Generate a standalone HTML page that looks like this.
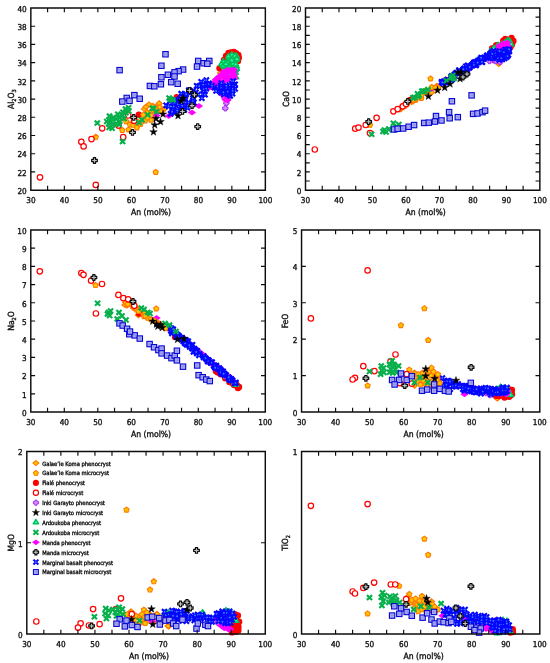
<!DOCTYPE html>
<html><head><meta charset="utf-8"><title>Plagioclase compositions</title>
<style>html,body{margin:0;padding:0;background:#fff}svg{display:block}text{font-family:'DejaVu Sans Condensed','DejaVu Sans','Liberation Sans',sans-serif;fill:#111;stroke:#111;stroke-width:0.33px;text-rendering:geometricPrecision}</style></head><body>
<svg width="550" height="663" viewBox="0 0 550 663">
<rect width="550" height="663" fill="#fff"/>
<defs>
<g id="gkp" transform="scale(1.05)"><path d="M0,-2.5L2.9,0L0,2.5L-2.9,0Z" fill="#FFC400" stroke="#FF7A00" stroke-width="1.15"/></g>
<g id="gkpL" transform="scale(1.0)"><path d="M0,-2.5L2.9,0L0,2.5L-2.9,0Z" fill="#FFC400" stroke="#FF7A00" stroke-width="1.15"/></g>
<g id="gkm" transform="scale(1.05)"><path d="M0,-2.5L2.47,-0.6L1.53,2.3L-1.53,2.3L-2.47,-0.6Z" fill="#FFC400" stroke="#FF7A00" stroke-width="1.05"/></g>
<g id="gkmL" transform="scale(1.0)"><path d="M0,-2.5L2.47,-0.6L1.53,2.3L-1.53,2.3L-2.47,-0.6Z" fill="#FFC400" stroke="#FF7A00" stroke-width="1.05"/></g>
<g id="fip" transform="scale(1.05)"><circle r="3.05" fill="#FF0000"/></g>
<g id="fipL" transform="scale(1.0)"><circle r="3.05" fill="#FF0000"/></g>
<g id="fim" transform="scale(1.05)"><circle r="2.6" fill="#fff" stroke="#FF0000" stroke-width="1.15"/></g>
<g id="fimL" transform="scale(1.0)"><circle r="2.6" fill="#fff" stroke="#FF0000" stroke-width="1.15"/></g>
<g id="igp" transform="scale(1.05)"><path d="M-1.1,-2.55H1.1V-1.1H2.55V1.1H1.1V2.55H-1.1V1.1H-2.55V-1.1H-1.1Z" fill="#DC88FF" stroke="#A020F0" stroke-width="0.85" stroke-linejoin="round"/></g>
<g id="igpL" transform="scale(1.0)"><path d="M-1.1,-2.55H1.1V-1.1H2.55V1.1H1.1V2.55H-1.1V1.1H-2.55V-1.1H-1.1Z" fill="#DC88FF" stroke="#A020F0" stroke-width="0.85" stroke-linejoin="round"/></g>
<g id="igm" transform="scale(1.05)"><path d="M0,-3.8L0.88,-1.21L3.61,-1.17L1.42,0.46L2.23,3.07L0,1.5L-2.23,3.07L-1.42,0.46L-3.61,-1.17L-0.88,-1.21Z" fill="#000" stroke="#000" stroke-width="0.4" stroke-linejoin="round"/></g>
<g id="igmL" transform="scale(1.0)"><path d="M0,-3.8L0.88,-1.21L3.61,-1.17L1.42,0.46L2.23,3.07L0,1.5L-2.23,3.07L-1.42,0.46L-3.61,-1.17L-0.88,-1.21Z" fill="#000" stroke="#000" stroke-width="0.4" stroke-linejoin="round"/></g>
<g id="arp" transform="scale(1.05)"><path d="M0,-3.2L2.7,1.3H-2.7Z" fill="#30FFB0" stroke="#00C25A" stroke-width="1.4" stroke-linejoin="round"/></g>
<g id="arpL" transform="scale(1.0)"><path d="M0,-3.2L2.7,1.3H-2.7Z" fill="#30FFB0" stroke="#00C25A" stroke-width="1.4" stroke-linejoin="round"/></g>
<g id="arm" transform="scale(1.05)"><path d="M-2.45,-2.35L2.45,2.35M-2.45,2.35L2.45,-2.35" fill="none" stroke="#08B04C" stroke-width="2.05"/></g>
<g id="armL" transform="scale(1.0)"><path d="M-2.45,-2.35L2.45,2.35M-2.45,2.35L2.45,-2.35" fill="none" stroke="#08B04C" stroke-width="2.05"/></g>
<g id="map" transform="scale(1.05)"><path d="M-3.9,0L-0.3,-2.6H0.3L3.9,0L0.3,2.6H-0.3Z" fill="#FF00FF"/></g>
<g id="mapL" transform="scale(1.0)"><path d="M-3.9,0L-0.3,-2.6H0.3L3.9,0L0.3,2.6H-0.3Z" fill="#FF00FF"/></g>
<g id="mam" transform="scale(1.05)"><path d="M-1.05,-2.7H1.05V-1.05H2.7V1.05H1.05V2.7H-1.05V1.05H-2.7V-1.05H-1.05Z" fill="#C0C0C0" stroke="#0A0A0A" stroke-width="1.1" stroke-linejoin="round"/></g>
<g id="mamL" transform="scale(1.0)"><path d="M-1.05,-2.7H1.05V-1.05H2.7V1.05H1.05V2.7H-1.05V1.05H-2.7V-1.05H-1.05Z" fill="#C0C0C0" stroke="#0A0A0A" stroke-width="1.1" stroke-linejoin="round"/></g>
<g id="mbp" transform="scale(1.05)"><path d="M-2.45,-2.45L2.45,2.45M-2.45,2.45L2.45,-2.45" fill="none" stroke="#0505FF" stroke-width="2.05"/><circle r="0.9" fill="#3A80FF"/></g>
<g id="mbpL" transform="scale(1.0)"><path d="M-2.45,-2.45L2.45,2.45M-2.45,2.45L2.45,-2.45" fill="none" stroke="#0505FF" stroke-width="2.05"/><circle r="0.9" fill="#3A80FF"/></g>
<g id="mbm" transform="scale(1.0)"><rect x="-2.68" y="-2.62" width="5.36" height="5.36" fill="#B8B8F8" stroke="#0808D0" stroke-width="1.15"/><path d="M-0.75,-2V2M0.75,-2V2M-2,0H2" stroke="#8484EA" stroke-width="0.6" fill="none"/></g>
<g id="mbmL" transform="scale(0.92)"><rect x="-2.68" y="-2.62" width="5.36" height="5.36" fill="#B8B8F8" stroke="#0808D0" stroke-width="1.15"/><path d="M-0.75,-2V2M0.75,-2V2M-2,0H2" stroke="#8484EA" stroke-width="0.6" fill="none"/></g>
</defs>
<g><use href="#gkp" x="144.5" y="109.1"/><use href="#gkp" x="149.0" y="104.6"/><use href="#gkp" x="159.2" y="103.4"/><use href="#gkp" x="156.0" y="107.2"/><use href="#gkp" x="159.8" y="107.2"/><use href="#gkp" x="150.9" y="111.6"/><use href="#gkp" x="164.3" y="109.1"/><use href="#gkp" x="153.0" y="106.0"/><use href="#gkp" x="147.0" y="112.5"/><use href="#gkp" x="161.5" y="111.0"/><use href="#gkp" x="142.0" y="116.5"/><use href="#gkp" x="155.0" y="113.5"/><use href="#gkp" x="151.5" y="115.5"/><use href="#gkp" x="146.0" y="106.8"/><use href="#gkp" x="220.6" y="73.0"/><use href="#fip" x="138.8" y="114.8"/><use href="#fip" x="176.7" y="97.2"/><use href="#fip" x="219.5" y="68.2"/><use href="#fip" x="228.5" y="52.9"/><use href="#fip" x="233.8" y="51.9"/><use href="#fip" x="238.3" y="55.0"/><use href="#fip" x="238.8" y="57.7"/><use href="#fip" x="231.0" y="52.5"/><use href="#fip" x="236.0" y="53.3"/><use href="#fip" x="226.0" y="56.0"/><use href="#fip" x="224.0" y="60.0"/><use href="#fip" x="238.0" y="61.0"/><use href="#igp" x="219.5" y="76.6"/><use href="#igp" x="221.0" y="91.4"/><use href="#igp" x="226.4" y="103.0"/><use href="#igp" x="225.3" y="108.3"/><use href="#igp" x="224.0" y="97.0"/><use href="#igp" x="228.0" y="99.0"/><use href="#igp" x="223.0" y="84.0"/><use href="#arp" x="223.2" y="62.0"/><use href="#arp" x="234.1" y="71.4"/><use href="#arp" x="229.2" y="66.3"/><use href="#arp" x="231.8" y="54.9"/><use href="#arp" x="233.1" y="59.4"/><use href="#arp" x="229.1" y="62.6"/><use href="#arp" x="233.6" y="68.2"/><use href="#arp" x="229.5" y="64.5"/><use href="#arp" x="235.7" y="58.1"/><use href="#arp" x="221.3" y="64.4"/><use href="#arp" x="228.4" y="59.8"/><use href="#arp" x="224.5" y="67.4"/><use href="#arp" x="223.3" y="66.0"/><use href="#arp" x="236.6" y="56.5"/><use href="#arp" x="234.5" y="65.6"/><use href="#arp" x="235.5" y="70.3"/><use href="#arp" x="234.8" y="56.2"/><use href="#arp" x="235.8" y="60.3"/><use href="#arp" x="227.1" y="62.8"/><use href="#arp" x="229.4" y="57.9"/><use href="#arp" x="235.5" y="72.9"/><use href="#arp" x="236.4" y="66.6"/><use href="#arp" x="233.0" y="64.2"/><use href="#arp" x="231.8" y="60.6"/><use href="#arp" x="235.9" y="77.4"/><use href="#arp" x="228.4" y="56.7"/><use href="#arp" x="235.7" y="64.8"/><use href="#arp" x="236.9" y="59.3"/><use href="#arp" x="225.9" y="64.4"/><use href="#arp" x="236.7" y="68.9"/><use href="#map" x="156.6" y="115.5"/><use href="#map" x="168.7" y="116.1"/><use href="#map" x="192.0" y="112.6"/><use href="#map" x="199.0" y="106.0"/><use href="#map" x="222.0" y="74.4"/><use href="#map" x="231.0" y="72.7"/><use href="#map" x="215.6" y="84.8"/><use href="#map" x="224.9" y="74.6"/><use href="#map" x="226.1" y="75.8"/><use href="#map" x="215.8" y="79.5"/><use href="#map" x="227.4" y="72.6"/><use href="#map" x="218.7" y="83.4"/><use href="#map" x="228.4" y="79.2"/><use href="#map" x="226.5" y="79.7"/><use href="#map" x="223.2" y="76.5"/><use href="#map" x="220.3" y="81.3"/><use href="#map" x="217.8" y="81.4"/><use href="#map" x="233.8" y="69.5"/><use href="#map" x="223.5" y="72.0"/><use href="#map" x="217.3" y="79.0"/><use href="#map" x="220.0" y="77.1"/><use href="#map" x="230.2" y="69.7"/><use href="#map" x="211.7" y="83.8"/><use href="#map" x="214.3" y="81.9"/><use href="#map" x="233.8" y="76.3"/><use href="#map" x="233.7" y="74.4"/><use href="#map" x="230.5" y="77.0"/><use href="#map" x="228.0" y="77.0"/><use href="#map" x="227.3" y="69.9"/><use href="#map" x="210.7" y="86.9"/><use href="#map" x="233.4" y="72.0"/><use href="#map" x="213.1" y="87.9"/><use href="#map" x="218.2" y="77.2"/><use href="#map" x="224.5" y="77.8"/><use href="#map" x="223.0" y="82.1"/><use href="#map" x="209.0" y="87.6"/><use href="#map" x="209.3" y="85.7"/><use href="#map" x="234.2" y="78.6"/><use href="#map" x="223.8" y="93.0"/><use href="#map" x="225.3" y="95.0"/><use href="#map" x="222.8" y="95.1"/><use href="#map" x="221.4" y="88.3"/><use href="#map" x="223.7" y="91.3"/><use href="#map" x="227.8" y="97.2"/><use href="#map" x="227.4" y="100.3"/><use href="#map" x="225.5" y="99.7"/><use href="#map" x="223.1" y="88.4"/><use href="#mbp" x="188.4" y="102.6"/><use href="#mbp" x="181.2" y="93.7"/><use href="#mbp" x="196.7" y="85.9"/><use href="#mbp" x="202.9" y="87.1"/><use href="#mbp" x="176.0" y="105.6"/><use href="#mbp" x="174.3" y="111.8"/><use href="#mbp" x="195.9" y="92.3"/><use href="#mbp" x="209.0" y="83.3"/><use href="#mbp" x="182.0" y="107.8"/><use href="#mbp" x="203.0" y="94.1"/><use href="#mbp" x="206.4" y="80.1"/><use href="#mbp" x="184.5" y="107.4"/><use href="#mbp" x="177.8" y="104.1"/><use href="#mbp" x="166.2" y="105.4"/><use href="#mbp" x="185.3" y="96.3"/><use href="#mbp" x="207.8" y="85.4"/><use href="#mbp" x="193.3" y="90.5"/><use href="#mbp" x="201.2" y="81.8"/><use href="#mbp" x="197.9" y="94.6"/><use href="#mbp" x="193.9" y="102.6"/><use href="#mbp" x="203.8" y="89.3"/><use href="#mbp" x="191.5" y="92.1"/><use href="#mbp" x="199.2" y="86.0"/><use href="#mbp" x="172.9" y="109.9"/><use href="#mbp" x="187.4" y="107.7"/><use href="#mbp" x="205.0" y="94.7"/><use href="#mbp" x="192.8" y="100.7"/><use href="#mbp" x="177.5" y="100.0"/><use href="#mbp" x="201.8" y="98.2"/><use href="#mbp" x="183.8" y="98.3"/><use href="#mbp" x="173.4" y="103.3"/><use href="#mbp" x="180.1" y="98.8"/><use href="#mbp" x="184.3" y="109.9"/><use href="#mbp" x="170.0" y="100.8"/><use href="#mbp" x="182.7" y="96.7"/><use href="#mbp" x="203.1" y="84.6"/><use href="#mbp" x="189.3" y="92.4"/><use href="#mbp" x="193.0" y="98.3"/><use href="#mbp" x="185.2" y="102.1"/><use href="#mbp" x="186.1" y="94.3"/><use href="#mbp" x="206.3" y="88.6"/><use href="#mbp" x="188.8" y="90.2"/><use href="#mbp" x="173.6" y="106.5"/><use href="#mbp" x="170.7" y="113.8"/><use href="#mbp" x="182.2" y="105.8"/><use href="#mbp" x="193.7" y="94.1"/><use href="#mbp" x="172.1" y="111.8"/><use href="#mbp" x="177.2" y="110.6"/><use href="#mbp" x="168.6" y="106.3"/><use href="#mbp" x="175.0" y="100.3"/><use href="#mbp" x="225.0" y="91.0"/><use href="#mbp" x="231.8" y="83.7"/><use href="#mbp" x="220.6" y="85.6"/><use href="#mbp" x="231.1" y="92.2"/><use href="#mbp" x="230.2" y="88.3"/><use href="#mbp" x="221.1" y="92.7"/><use href="#mbp" x="229.1" y="94.3"/><use href="#mbp" x="229.5" y="85.1"/><use href="#mbp" x="226.0" y="87.8"/><use href="#mbp" x="219.6" y="91.0"/><use href="#mbp" x="235.1" y="84.3"/><use href="#mbp" x="233.2" y="81.1"/><use href="#mbp" x="230.2" y="95.8"/><use href="#mbp" x="233.2" y="86.1"/><use href="#mbp" x="227.7" y="91.8"/><use href="#mbp" x="224.1" y="94.2"/><use href="#mbp" x="223.4" y="92.3"/><use href="#mbp" x="226.4" y="85.8"/><use href="#mbp" x="221.4" y="83.1"/><use href="#mbp" x="232.5" y="93.7"/><use href="#mbp" x="220.8" y="87.6"/><use href="#mbp" x="235.1" y="88.9"/><use href="#mbp" x="232.6" y="90.7"/><use href="#mbp" x="214.4" y="87.4"/><use href="#mbp" x="217.8" y="88.7"/><use href="#mbp" x="216.1" y="91.0"/><use href="#mbp" x="209.0" y="84.0"/><use href="#mbp" x="212.0" y="85.5"/><use href="#gkm" x="95.8" y="136.9"/><use href="#gkm" x="155.7" y="172.1"/><use href="#gkm" x="126.1" y="121.2"/><use href="#gkm" x="129.9" y="124.4"/><use href="#gkm" x="122.3" y="130.1"/><use href="#gkm" x="128.6" y="129.5"/><use href="#gkm" x="136.9" y="127.5"/><use href="#gkm" x="145.2" y="120.5"/><use href="#gkm" x="143.3" y="114.8"/><use href="#gkm" x="150.9" y="119.9"/><use href="#gkm" x="133.0" y="124.8"/><use href="#gkm" x="140.5" y="124.0"/><use href="#gkm" x="147.5" y="117.5"/><use href="#gkm" x="137.5" y="121.5"/><use href="#fim" x="40.0" y="177.3"/><use href="#fim" x="81.3" y="141.8"/><use href="#fim" x="83.6" y="146.4"/><use href="#fim" x="91.5" y="139.1"/><use href="#fim" x="102.2" y="128.3"/><use href="#fim" x="95.8" y="184.9"/><use href="#fim" x="123.2" y="137.2"/><use href="#fim" x="128.3" y="115.5"/><use href="#fim" x="134.1" y="120.8"/><use href="#fim" x="118.5" y="125.6"/><use href="#arm" x="97.3" y="123.1"/><use href="#arm" x="122.6" y="141.6"/><use href="#arm" x="109.5" y="116.1"/><use href="#arm" x="108.9" y="119.9"/><use href="#arm" x="108.7" y="123.7"/><use href="#arm" x="109.2" y="127.5"/><use href="#arm" x="112.1" y="128.2"/><use href="#arm" x="113.4" y="117.4"/><use href="#arm" x="111.0" y="121.5"/><use href="#arm" x="112.5" y="124.8"/><use href="#arm" x="106.8" y="121.5"/><use href="#arm" x="117.8" y="114.2"/><use href="#arm" x="119.1" y="117.4"/><use href="#arm" x="119.7" y="121.2"/><use href="#arm" x="119.1" y="124.4"/><use href="#arm" x="116.0" y="119.0"/><use href="#arm" x="116.2" y="123.5"/><use href="#arm" x="122.9" y="112.3"/><use href="#arm" x="125.5" y="109.1"/><use href="#arm" x="128.6" y="107.8"/><use href="#arm" x="122.3" y="115.5"/><use href="#arm" x="125.8" y="112.8"/><use href="#arm" x="128.8" y="111.0"/><use href="#arm" x="124.0" y="118.5"/><use href="#arm" x="142.0" y="119.9"/><use href="#arm" x="147.7" y="114.8"/><use href="#arm" x="153.5" y="108.5"/><use href="#arm" x="156.6" y="111.6"/><use href="#arm" x="152.4" y="108.3"/><use href="#arm" x="170.4" y="99.3"/><use href="#arm" x="169.1" y="98.0"/><use href="#arm" x="172.9" y="99.9"/><use href="#arm" x="139.0" y="122.5"/><use href="#igm" x="153.5" y="132.0"/><use href="#igm" x="154.7" y="125.0"/><use href="#igm" x="160.5" y="121.8"/><use href="#igm" x="163.0" y="114.2"/><use href="#igm" x="156.0" y="118.6"/><use href="#igm" x="183.1" y="98.3"/><use href="#igm" x="178.0" y="115.8"/><use href="#igm" x="181.0" y="101.0"/><use href="#mam" x="94.5" y="160.5"/><use href="#mam" x="133.7" y="117.4"/><use href="#mam" x="132.5" y="132.4"/><use href="#mam" x="189.5" y="90.4"/><use href="#mam" x="197.7" y="126.6"/><use href="#mam" x="192.0" y="105.6"/><use href="#mam" x="182.5" y="111.4"/><use href="#mam" x="194.5" y="94.8"/><use href="#mbm" x="165.5" y="54.2"/><use href="#mbm" x="119.6" y="70.1"/><use href="#mbm" x="161.4" y="65.7"/><use href="#mbm" x="183.1" y="69.5"/><use href="#mbm" x="178.6" y="71.1"/><use href="#mbm" x="174.5" y="72.3"/><use href="#mbm" x="167.9" y="74.7"/><use href="#mbm" x="174.5" y="76.4"/><use href="#mbm" x="161.4" y="77.2"/><use href="#mbm" x="171.2" y="82.1"/><use href="#mbm" x="177.7" y="83.7"/><use href="#mbm" x="160.9" y="84.2"/><use href="#mbm" x="149.9" y="85.9"/><use href="#mbm" x="154.3" y="86.2"/><use href="#mbm" x="134.4" y="95.1"/><use href="#mbm" x="126.7" y="97.9"/><use href="#mbm" x="139.7" y="98.7"/><use href="#mbm" x="122.3" y="101.5"/><use href="#mbm" x="129.5" y="100.8"/><use href="#mbm" x="198.2" y="60.9"/><use href="#mbm" x="209.3" y="60.9"/><use href="#mbm" x="203.6" y="63.2"/><use href="#mbm" x="207.3" y="63.7"/><use href="#mbm" x="197.0" y="66.5"/></g>
<path d="M30.85,8.0H265.35V190.15H30.85Z" fill="none" stroke="#0c0c0c" stroke-width="1.45" stroke-linejoin="miter"/>
<path d="M47.60,190.15v-4.3M47.60,8.0v4.3M64.35,190.15v-4.3M64.35,8.0v4.3M81.10,190.15v-4.3M81.10,8.0v4.3M97.85,190.15v-4.3M97.85,8.0v4.3M114.60,190.15v-4.3M114.60,8.0v4.3M131.35,190.15v-4.3M131.35,8.0v4.3M148.10,190.15v-4.3M148.10,8.0v4.3M164.85,190.15v-4.3M164.85,8.0v4.3M181.60,190.15v-4.3M181.60,8.0v4.3M198.35,190.15v-4.3M198.35,8.0v4.3M215.10,190.15v-4.3M215.10,8.0v4.3M231.85,190.15v-4.3M231.85,8.0v4.3M248.60,190.15v-4.3M248.60,8.0v4.3M30.85,171.94h4.3M265.35,171.94h-4.3M30.85,153.72h4.3M265.35,153.72h-4.3M30.85,135.50h4.3M265.35,135.50h-4.3M30.85,117.29h4.3M265.35,117.29h-4.3M30.85,99.08h4.3M265.35,99.08h-4.3M30.85,80.86h4.3M265.35,80.86h-4.3M30.85,62.65h4.3M265.35,62.65h-4.3M30.85,44.43h4.3M265.35,44.43h-4.3M30.85,26.22h4.3M265.35,26.22h-4.3" fill="none" stroke="#0c0c0c" stroke-width="1.15"/>
<text x="30.9" y="202.8" font-size="8.15" text-anchor="middle">30</text>
<text x="64.4" y="202.8" font-size="8.15" text-anchor="middle">40</text>
<text x="97.9" y="202.8" font-size="8.15" text-anchor="middle">50</text>
<text x="131.4" y="202.8" font-size="8.15" text-anchor="middle">60</text>
<text x="164.9" y="202.8" font-size="8.15" text-anchor="middle">70</text>
<text x="198.4" y="202.8" font-size="8.15" text-anchor="middle">80</text>
<text x="231.9" y="202.8" font-size="8.15" text-anchor="middle">90</text>
<text x="265.4" y="202.8" font-size="8.15" text-anchor="middle">100</text>
<text x="26.7" y="193.8" font-size="8.15" text-anchor="end">20</text>
<text x="26.7" y="175.6" font-size="8.15" text-anchor="end">22</text>
<text x="26.7" y="157.4" font-size="8.15" text-anchor="end">24</text>
<text x="26.7" y="139.2" font-size="8.15" text-anchor="end">26</text>
<text x="26.7" y="121.0" font-size="8.15" text-anchor="end">28</text>
<text x="26.7" y="102.8" font-size="8.15" text-anchor="end">30</text>
<text x="26.7" y="84.6" font-size="8.15" text-anchor="end">32</text>
<text x="26.7" y="66.3" font-size="8.15" text-anchor="end">34</text>
<text x="26.7" y="48.1" font-size="8.15" text-anchor="end">36</text>
<text x="26.7" y="29.9" font-size="8.15" text-anchor="end">38</text>
<text x="26.7" y="11.7" font-size="8.15" text-anchor="end">40</text>
<text x="151.0" y="215.0" font-size="8.55" text-anchor="middle">An (mol%)</text>
<text transform="translate(13.9,99.1) rotate(-90)" font-size="8.5" text-anchor="middle">Al<tspan font-size="5.6" dy="1.8">2</tspan><tspan dy="-1.8">O</tspan><tspan font-size="5.6" dy="1.8">3</tspan></text>
<g><use href="#gkp" x="427.1" y="91.8"/><use href="#gkp" x="417.0" y="97.0"/><use href="#gkp" x="431.8" y="88.5"/><use href="#gkp" x="418.2" y="96.8"/><use href="#gkp" x="437.0" y="86.0"/><use href="#gkp" x="411.6" y="101.8"/><use href="#gkp" x="429.1" y="91.0"/><use href="#gkp" x="404.6" y="104.5"/><use href="#gkp" x="408.6" y="102.0"/><use href="#gkp" x="405.7" y="105.8"/><use href="#gkp" x="413.0" y="101.4"/><use href="#gkp" x="431.5" y="92.4"/><use href="#gkp" x="402.7" y="106.8"/><use href="#gkp" x="414.8" y="98.9"/><use href="#gkp" x="498.8" y="63.8"/><use href="#fip" x="410.0" y="100.0"/><use href="#fip" x="446.0" y="80.0"/><use href="#fip" x="496.0" y="45.5"/><use href="#fip" x="497.2" y="45.2"/><use href="#fip" x="503.5" y="41.8"/><use href="#fip" x="503.3" y="40.7"/><use href="#fip" x="507.8" y="40.0"/><use href="#fip" x="493.6" y="49.1"/><use href="#fip" x="505.4" y="39.0"/><use href="#fip" x="495.0" y="48.0"/><use href="#fip" x="492.1" y="48.5"/><use href="#fip" x="493.0" y="49.9"/><use href="#fip" x="496.5" y="46.1"/><use href="#fip" x="494.2" y="48.3"/><use href="#fip" x="506.1" y="40.3"/><use href="#fip" x="498.8" y="45.8"/><use href="#fip" x="511.5" y="38.0"/><use href="#fip" x="513.4" y="41.0"/><use href="#fip" x="512.0" y="44.5"/><use href="#fip" x="510.5" y="47.0"/><use href="#igp" x="493.8" y="60.4"/><use href="#igp" x="497.0" y="57.0"/><use href="#igp" x="491.0" y="58.0"/><use href="#igp" x="500.0" y="62.0"/><use href="#igp" x="489.5" y="61.0"/><use href="#igp" x="496.0" y="61.0"/><use href="#arp" x="498.0" y="45.4"/><use href="#arp" x="509.6" y="41.2"/><use href="#arp" x="511.0" y="44.4"/><use href="#arp" x="505.0" y="42.9"/><use href="#arp" x="502.0" y="44.4"/><use href="#arp" x="490.5" y="51.4"/><use href="#arp" x="477.8" y="60.3"/><use href="#arp" x="507.5" y="40.9"/><use href="#arp" x="494.0" y="48.4"/><use href="#map" x="431.6" y="88.7"/><use href="#map" x="452.0" y="77.0"/><use href="#map" x="470.0" y="68.0"/><use href="#map" x="473.0" y="66.0"/><use href="#map" x="505.9" y="48.7"/><use href="#map" x="502.3" y="44.8"/><use href="#map" x="501.7" y="50.4"/><use href="#map" x="499.0" y="46.1"/><use href="#map" x="502.3" y="48.5"/><use href="#map" x="501.2" y="46.9"/><use href="#map" x="504.2" y="47.5"/><use href="#map" x="506.5" y="47.1"/><use href="#map" x="503.3" y="45.9"/><use href="#map" x="505.9" y="45.7"/><use href="#map" x="507.2" y="42.5"/><use href="#map" x="503.4" y="43.6"/><use href="#map" x="507.8" y="45.7"/><use href="#map" x="499.7" y="47.6"/><use href="#map" x="497.0" y="51.0"/><use href="#map" x="506.5" y="44.4"/><use href="#mbp" x="482.4" y="62.2"/><use href="#mbp" x="450.6" y="79.5"/><use href="#mbp" x="480.3" y="59.7"/><use href="#mbp" x="476.0" y="65.4"/><use href="#mbp" x="483.0" y="57.8"/><use href="#mbp" x="451.2" y="77.1"/><use href="#mbp" x="478.1" y="60.6"/><use href="#mbp" x="464.1" y="71.6"/><use href="#mbp" x="454.3" y="74.7"/><use href="#mbp" x="453.7" y="77.3"/><use href="#mbp" x="445.0" y="82.5"/><use href="#mbp" x="465.4" y="70.5"/><use href="#mbp" x="467.1" y="69.8"/><use href="#mbp" x="468.7" y="67.7"/><use href="#mbp" x="483.7" y="58.8"/><use href="#mbp" x="464.2" y="68.3"/><use href="#mbp" x="483.4" y="58.3"/><use href="#mbp" x="459.0" y="70.1"/><use href="#mbp" x="446.0" y="82.4"/><use href="#mbp" x="473.4" y="64.7"/><use href="#mbp" x="472.1" y="65.4"/><use href="#mbp" x="476.3" y="64.4"/><use href="#mbp" x="490.7" y="54.4"/><use href="#mbp" x="465.9" y="66.3"/><use href="#mbp" x="443.3" y="82.5"/><use href="#mbp" x="477.2" y="61.8"/><use href="#mbp" x="484.5" y="57.6"/><use href="#mbp" x="459.2" y="71.4"/><use href="#mbp" x="480.4" y="61.2"/><use href="#mbp" x="451.5" y="76.2"/><use href="#mbp" x="469.6" y="67.7"/><use href="#mbp" x="482.8" y="58.8"/><use href="#mbp" x="462.9" y="73.5"/><use href="#mbp" x="466.7" y="68.5"/><use href="#mbp" x="491.2" y="56.2"/><use href="#mbp" x="474.6" y="64.6"/><use href="#mbp" x="456.9" y="73.2"/><use href="#mbp" x="455.8" y="73.4"/><use href="#mbp" x="480.5" y="59.8"/><use href="#mbp" x="443.3" y="81.8"/><use href="#mbp" x="467.7" y="65.4"/><use href="#mbp" x="444.0" y="81.8"/><use href="#mbp" x="451.1" y="77.9"/><use href="#mbp" x="487.2" y="55.4"/><use href="#mbp" x="480.6" y="59.5"/><use href="#mbp" x="486.6" y="55.8"/><use href="#mbp" x="472.5" y="64.2"/><use href="#mbp" x="475.8" y="61.8"/><use href="#mbp" x="451.7" y="76.2"/><use href="#mbp" x="474.1" y="62.3"/><use href="#mbp" x="446.9" y="80.8"/><use href="#mbp" x="451.6" y="79.8"/><use href="#mbp" x="487.7" y="57.2"/><use href="#mbp" x="473.7" y="63.0"/><use href="#mbp" x="481.9" y="61.9"/><use href="#mbp" x="469.7" y="67.0"/><use href="#mbp" x="463.2" y="71.9"/><use href="#mbp" x="456.7" y="72.7"/><use href="#mbp" x="488.8" y="56.8"/><use href="#mbp" x="444.1" y="81.4"/><use href="#mbp" x="447.4" y="79.7"/><use href="#mbp" x="481.1" y="57.7"/><use href="#mbp" x="463.3" y="69.3"/><use href="#mbp" x="441.6" y="81.8"/><use href="#mbp" x="489.2" y="57.0"/><use href="#mbp" x="490.2" y="53.8"/><use href="#mbp" x="446.7" y="80.5"/><use href="#mbp" x="474.0" y="64.7"/><use href="#mbp" x="442.6" y="83.4"/><use href="#mbp" x="441.6" y="82.9"/><use href="#mbp" x="489.8" y="54.8"/><use href="#mbp" x="446.1" y="81.1"/><use href="#mbp" x="442.2" y="82.4"/><use href="#mbp" x="477.7" y="62.5"/><use href="#mbp" x="451.9" y="79.6"/><use href="#mbp" x="490.4" y="57.9"/><use href="#mbp" x="505.1" y="49.5"/><use href="#mbp" x="502.9" y="57.1"/><use href="#mbp" x="499.2" y="59.8"/><use href="#mbp" x="507.0" y="49.5"/><use href="#mbp" x="496.0" y="57.3"/><use href="#mbp" x="497.2" y="55.5"/><use href="#mbp" x="498.8" y="56.7"/><use href="#mbp" x="492.4" y="58.1"/><use href="#mbp" x="502.9" y="53.6"/><use href="#mbp" x="497.6" y="58.0"/><use href="#mbp" x="501.5" y="52.0"/><use href="#mbp" x="504.5" y="58.5"/><use href="#mbp" x="502.3" y="59.3"/><use href="#mbp" x="506.7" y="51.9"/><use href="#mbp" x="501.3" y="58.1"/><use href="#mbp" x="509.4" y="51.3"/><use href="#mbp" x="499.4" y="51.0"/><use href="#mbp" x="506.4" y="54.1"/><use href="#mbp" x="508.4" y="54.8"/><use href="#mbp" x="493.4" y="50.8"/><use href="#mbp" x="491.6" y="56.2"/><use href="#mbp" x="509.0" y="49.3"/><use href="#mbp" x="494.9" y="55.3"/><use href="#mbp" x="494.8" y="52.8"/><use href="#mbp" x="506.3" y="57.1"/><use href="#mbp" x="503.9" y="52.1"/><use href="#mbp" x="491.6" y="52.4"/><use href="#mbp" x="492.3" y="53.9"/><use href="#mbp" x="507.5" y="56.1"/><use href="#gkm" x="370.0" y="124.8"/><use href="#gkm" x="400.0" y="109.0"/><use href="#gkm" x="430.5" y="78.5"/><use href="#gkm" x="401.8" y="107.2"/><use href="#gkm" x="431.8" y="87.1"/><use href="#gkm" x="425.3" y="92.1"/><use href="#gkm" x="415.8" y="99.5"/><use href="#gkm" x="438.2" y="87.5"/><use href="#gkm" x="399.7" y="109.4"/><use href="#gkm" x="407.0" y="103.5"/><use href="#gkm" x="421.3" y="98.0"/><use href="#gkm" x="415.0" y="99.7"/><use href="#gkm" x="418.0" y="96.6"/><use href="#gkm" x="421.4" y="95.2"/><use href="#gkm" x="425.5" y="90.6"/><use href="#gkm" x="413.2" y="99.7"/><use href="#gkm" x="435.4" y="87.6"/><use href="#fim" x="314.8" y="149.5"/><use href="#fim" x="355.2" y="128.7"/><use href="#fim" x="358.5" y="127.6"/><use href="#fim" x="365.7" y="125.0"/><use href="#fim" x="376.6" y="117.8"/><use href="#fim" x="370.0" y="133.1"/><use href="#fim" x="393.4" y="111.3"/><use href="#fim" x="397.7" y="109.1"/><use href="#fim" x="402.8" y="106.3"/><use href="#fim" x="406.0" y="104.0"/><use href="#arm" x="371.6" y="134.2"/><use href="#arm" x="383.0" y="131.5"/><use href="#arm" x="386.0" y="132.0"/><use href="#arm" x="384.5" y="130.0"/><use href="#arm" x="393.4" y="123.3"/><use href="#arm" x="398.8" y="124.4"/><use href="#arm" x="392.3" y="129.8"/><use href="#arm" x="396.0" y="127.0"/><use href="#arm" x="389.0" y="129.0"/><use href="#arm" x="428.0" y="89.6"/><use href="#arm" x="417.5" y="93.8"/><use href="#arm" x="414.2" y="97.6"/><use href="#arm" x="414.3" y="97.4"/><use href="#arm" x="418.2" y="96.6"/><use href="#arm" x="424.6" y="91.5"/><use href="#arm" x="421.9" y="91.1"/><use href="#arm" x="418.9" y="94.9"/><use href="#arm" x="412.9" y="97.7"/><use href="#arm" x="423.2" y="91.3"/><use href="#arm" x="453.0" y="75.6"/><use href="#arm" x="451.5" y="78.5"/><use href="#arm" x="446.4" y="80.8"/><use href="#arm" x="454.0" y="78.5"/><use href="#arm" x="451.3" y="77.2"/><use href="#igm" x="428.4" y="96.4"/><use href="#igm" x="437.5" y="90.3"/><use href="#igm" x="444.7" y="87.6"/><use href="#igm" x="460.0" y="78.9"/><use href="#igm" x="457.8" y="72.4"/><use href="#igm" x="450.0" y="84.0"/><use href="#igm" x="461.0" y="72.5"/><use href="#mam" x="368.7" y="121.7"/><use href="#mam" x="407.8" y="101.4"/><use href="#mam" x="463.0" y="77.0"/><use href="#mam" x="467.0" y="74.0"/><use href="#mbm" x="394.0" y="129.4"/><use href="#mbm" x="397.7" y="128.7"/><use href="#mbm" x="403.2" y="128.4"/><use href="#mbm" x="408.6" y="126.7"/><use href="#mbm" x="414.1" y="125.0"/><use href="#mbm" x="424.2" y="122.9"/><use href="#mbm" x="428.8" y="122.6"/><use href="#mbm" x="436.0" y="116.0"/><use href="#mbm" x="434.9" y="121.5"/><use href="#mbm" x="441.5" y="120.4"/><use href="#mbm" x="449.1" y="112.1"/><use href="#mbm" x="449.7" y="118.2"/><use href="#mbm" x="457.8" y="117.1"/><use href="#mbm" x="451.9" y="101.2"/><use href="#mbm" x="471.6" y="95.3"/><use href="#mbm" x="473.1" y="113.8"/><use href="#mbm" x="477.5" y="113.4"/><use href="#mbm" x="482.5" y="112.1"/><use href="#mbm" x="485.1" y="110.6"/></g>
<path d="M305.5,8.0H539.85V190.15H305.5Z" fill="none" stroke="#0c0c0c" stroke-width="1.45" stroke-linejoin="miter"/>
<path d="M322.24,190.15v-4.3M322.24,8.0v4.3M338.98,190.15v-4.3M338.98,8.0v4.3M355.72,190.15v-4.3M355.72,8.0v4.3M372.46,190.15v-4.3M372.46,8.0v4.3M389.20,190.15v-4.3M389.20,8.0v4.3M405.94,190.15v-4.3M405.94,8.0v4.3M422.68,190.15v-4.3M422.68,8.0v4.3M439.41,190.15v-4.3M439.41,8.0v4.3M456.15,190.15v-4.3M456.15,8.0v4.3M472.89,190.15v-4.3M472.89,8.0v4.3M489.63,190.15v-4.3M489.63,8.0v4.3M506.37,190.15v-4.3M506.37,8.0v4.3M523.11,190.15v-4.3M523.11,8.0v4.3M305.5,181.04h4.3M539.85,181.04h-4.3M305.5,171.94h4.3M539.85,171.94h-4.3M305.5,162.83h4.3M539.85,162.83h-4.3M305.5,153.72h4.3M539.85,153.72h-4.3M305.5,144.61h4.3M539.85,144.61h-4.3M305.5,135.50h4.3M539.85,135.50h-4.3M305.5,126.40h4.3M539.85,126.40h-4.3M305.5,117.29h4.3M539.85,117.29h-4.3M305.5,108.18h4.3M539.85,108.18h-4.3M305.5,99.08h4.3M539.85,99.08h-4.3M305.5,89.97h4.3M539.85,89.97h-4.3M305.5,80.86h4.3M539.85,80.86h-4.3M305.5,71.75h4.3M539.85,71.75h-4.3M305.5,62.65h4.3M539.85,62.65h-4.3M305.5,53.54h4.3M539.85,53.54h-4.3M305.5,44.43h4.3M539.85,44.43h-4.3M305.5,35.32h4.3M539.85,35.32h-4.3M305.5,26.22h4.3M539.85,26.22h-4.3M305.5,17.11h4.3M539.85,17.11h-4.3" fill="none" stroke="#0c0c0c" stroke-width="1.15"/>
<text x="305.5" y="202.8" font-size="8.15" text-anchor="middle">30</text>
<text x="339.0" y="202.8" font-size="8.15" text-anchor="middle">40</text>
<text x="372.5" y="202.8" font-size="8.15" text-anchor="middle">50</text>
<text x="405.9" y="202.8" font-size="8.15" text-anchor="middle">60</text>
<text x="439.4" y="202.8" font-size="8.15" text-anchor="middle">70</text>
<text x="472.9" y="202.8" font-size="8.15" text-anchor="middle">80</text>
<text x="506.4" y="202.8" font-size="8.15" text-anchor="middle">90</text>
<text x="539.9" y="202.8" font-size="8.15" text-anchor="middle">100</text>
<text x="301.3" y="193.8" font-size="8.15" text-anchor="end">0</text>
<text x="301.3" y="175.6" font-size="8.15" text-anchor="end">2</text>
<text x="301.3" y="157.4" font-size="8.15" text-anchor="end">4</text>
<text x="301.3" y="139.2" font-size="8.15" text-anchor="end">6</text>
<text x="301.3" y="121.0" font-size="8.15" text-anchor="end">8</text>
<text x="301.3" y="102.8" font-size="8.15" text-anchor="end">10</text>
<text x="301.3" y="84.6" font-size="8.15" text-anchor="end">12</text>
<text x="301.3" y="66.3" font-size="8.15" text-anchor="end">14</text>
<text x="301.3" y="48.1" font-size="8.15" text-anchor="end">16</text>
<text x="301.3" y="29.9" font-size="8.15" text-anchor="end">18</text>
<text x="301.3" y="11.7" font-size="8.15" text-anchor="end">20</text>
<text x="425.6" y="215.0" font-size="8.55" text-anchor="middle">An (mol%)</text>
<text transform="translate(288.9,99.1) rotate(-90)" font-size="8.5" text-anchor="middle">CaO</text>
<g><use href="#gkp" x="127.6" y="304.6"/><use href="#gkp" x="135.0" y="306.9"/><use href="#gkp" x="145.2" y="314.7"/><use href="#gkp" x="133.6" y="308.1"/><use href="#gkp" x="138.4" y="315.1"/><use href="#gkp" x="163.1" y="326.8"/><use href="#gkp" x="130.2" y="304.2"/><use href="#gkp" x="127.0" y="305.4"/><use href="#gkp" x="155.5" y="320.9"/><use href="#gkp" x="125.0" y="304.9"/><use href="#gkp" x="158.5" y="323.5"/><use href="#gkp" x="125.8" y="302.5"/><use href="#gkp" x="159.7" y="323.9"/><use href="#gkp" x="143.5" y="313.7"/><use href="#fip" x="139.1" y="313.5"/><use href="#fip" x="175.0" y="337.0"/><use href="#fip" x="234.1" y="385.1"/><use href="#fip" x="217.5" y="372.3"/><use href="#fip" x="218.7" y="372.6"/><use href="#fip" x="219.6" y="372.2"/><use href="#fip" x="216.3" y="371.3"/><use href="#fip" x="225.2" y="378.2"/><use href="#fip" x="220.6" y="374.3"/><use href="#fip" x="229.4" y="382.0"/><use href="#fip" x="232.2" y="383.1"/><use href="#fip" x="216.5" y="370.5"/><use href="#fip" x="230.8" y="381.4"/><use href="#fip" x="215.9" y="370.8"/><use href="#fip" x="237.0" y="385.5"/><use href="#fip" x="239.0" y="387.0"/><use href="#fip" x="238.0" y="388.0"/><use href="#fip" x="236.0" y="384.5"/><use href="#igp" x="222.0" y="372.0"/><use href="#igp" x="225.0" y="375.0"/><use href="#igp" x="219.0" y="370.0"/><use href="#arp" x="229.9" y="380.6"/><use href="#arp" x="235.7" y="384.0"/><use href="#arp" x="234.5" y="383.3"/><use href="#arp" x="231.5" y="380.4"/><use href="#arp" x="235.8" y="384.8"/><use href="#arp" x="230.6" y="379.6"/><use href="#arp" x="233.0" y="381.2"/><use href="#arp" x="226.4" y="376.9"/><use href="#arp" x="230.6" y="379.7"/><use href="#arp" x="227.5" y="377.2"/><use href="#map" x="156.6" y="318.0"/><use href="#map" x="180.0" y="338.0"/><use href="#map" x="227.4" y="375.6"/><use href="#map" x="228.3" y="378.5"/><use href="#map" x="214.4" y="367.0"/><use href="#map" x="214.6" y="365.6"/><use href="#map" x="229.3" y="377.9"/><use href="#map" x="227.5" y="377.0"/><use href="#map" x="210.4" y="362.3"/><use href="#map" x="218.7" y="369.6"/><use href="#map" x="197.6" y="350.2"/><use href="#map" x="216.1" y="366.7"/><use href="#map" x="201.6" y="354.1"/><use href="#map" x="229.7" y="376.9"/><use href="#map" x="209.0" y="360.5"/><use href="#map" x="225.2" y="373.7"/><use href="#map" x="198.6" y="353.2"/><use href="#map" x="216.0" y="365.3"/><use href="#map" x="216.5" y="366.1"/><use href="#map" x="197.9" y="351.0"/><use href="#map" x="232.8" y="381.0"/><use href="#map" x="200.6" y="354.0"/><use href="#map" x="206.2" y="358.4"/><use href="#map" x="200.7" y="353.4"/><use href="#map" x="222.8" y="372.5"/><use href="#map" x="219.1" y="369.5"/><use href="#map" x="218.9" y="368.0"/><use href="#map" x="200.9" y="353.6"/><use href="#map" x="229.2" y="377.9"/><use href="#map" x="201.7" y="354.2"/><use href="#map" x="215.6" y="365.7"/><use href="#map" x="201.5" y="354.3"/><use href="#map" x="211.7" y="363.7"/><use href="#map" x="228.5" y="378.1"/><use href="#map" x="203.0" y="354.5"/><use href="#map" x="203.4" y="355.3"/><use href="#map" x="227.2" y="376.9"/><use href="#map" x="212.7" y="363.6"/><use href="#map" x="228.5" y="376.5"/><use href="#map" x="231.9" y="380.1"/><use href="#map" x="225.9" y="374.8"/><use href="#map" x="209.2" y="361.3"/><use href="#mbp" x="203.6" y="357.4"/><use href="#mbp" x="192.5" y="344.8"/><use href="#mbp" x="196.8" y="353.3"/><use href="#mbp" x="169.2" y="327.0"/><use href="#mbp" x="191.5" y="346.8"/><use href="#mbp" x="176.4" y="336.6"/><use href="#mbp" x="186.8" y="344.8"/><use href="#mbp" x="176.9" y="334.3"/><use href="#mbp" x="188.2" y="341.4"/><use href="#mbp" x="177.3" y="336.7"/><use href="#mbp" x="178.8" y="336.2"/><use href="#mbp" x="189.8" y="345.1"/><use href="#mbp" x="203.8" y="356.0"/><use href="#mbp" x="184.8" y="341.4"/><use href="#mbp" x="187.1" y="343.8"/><use href="#mbp" x="171.7" y="331.4"/><use href="#mbp" x="178.6" y="335.6"/><use href="#mbp" x="176.0" y="334.9"/><use href="#mbp" x="171.5" y="328.3"/><use href="#mbp" x="190.5" y="345.5"/><use href="#mbp" x="188.9" y="344.4"/><use href="#mbp" x="194.3" y="348.6"/><use href="#mbp" x="185.3" y="340.3"/><use href="#mbp" x="185.1" y="341.2"/><use href="#mbp" x="178.8" y="336.7"/><use href="#mbp" x="186.0" y="343.4"/><use href="#mbp" x="181.6" y="338.8"/><use href="#mbp" x="180.5" y="337.9"/><use href="#mbp" x="199.7" y="353.8"/><use href="#mbp" x="184.9" y="343.2"/><use href="#mbp" x="177.3" y="336.5"/><use href="#mbp" x="196.4" y="350.9"/><use href="#mbp" x="171.9" y="333.3"/><use href="#mbp" x="183.2" y="341.3"/><use href="#mbp" x="169.9" y="328.3"/><use href="#mbp" x="194.5" y="350.3"/><use href="#mbp" x="170.9" y="330.7"/><use href="#mbp" x="193.5" y="351.8"/><use href="#mbp" x="173.2" y="331.4"/><use href="#mbp" x="192.2" y="348.6"/><use href="#mbp" x="189.7" y="347.0"/><use href="#mbp" x="187.6" y="341.9"/><use href="#mbp" x="195.1" y="349.8"/><use href="#mbp" x="186.1" y="340.4"/><use href="#mbp" x="197.2" y="350.9"/><use href="#mbp" x="173.2" y="329.3"/><use href="#mbp" x="199.0" y="355.3"/><use href="#mbp" x="189.2" y="345.2"/><use href="#mbp" x="185.1" y="343.4"/><use href="#mbp" x="183.1" y="339.7"/><use href="#mbp" x="196.2" y="352.0"/><use href="#mbp" x="182.0" y="338.0"/><use href="#mbp" x="185.2" y="339.8"/><use href="#mbp" x="177.9" y="336.4"/><use href="#mbp" x="182.4" y="338.4"/><use href="#mbp" x="215.0" y="366.1"/><use href="#mbp" x="228.7" y="378.4"/><use href="#mbp" x="218.9" y="368.9"/><use href="#mbp" x="210.7" y="362.6"/><use href="#mbp" x="222.3" y="372.9"/><use href="#mbp" x="222.0" y="373.7"/><use href="#mbp" x="214.4" y="366.8"/><use href="#mbp" x="230.2" y="380.1"/><use href="#mbp" x="212.1" y="362.2"/><use href="#mbp" x="218.0" y="368.9"/><use href="#mbp" x="206.5" y="359.2"/><use href="#mbp" x="223.1" y="371.4"/><use href="#mbp" x="228.6" y="377.7"/><use href="#mbp" x="221.0" y="372.3"/><use href="#mbp" x="220.8" y="371.2"/><use href="#mbp" x="226.2" y="375.1"/><use href="#mbp" x="222.9" y="373.4"/><use href="#mbp" x="215.2" y="367.6"/><use href="#mbp" x="221.2" y="371.2"/><use href="#mbp" x="208.3" y="360.2"/><use href="#mbp" x="221.8" y="372.6"/><use href="#mbp" x="221.8" y="373.5"/><use href="#mbp" x="220.5" y="369.6"/><use href="#mbp" x="219.3" y="368.1"/><use href="#mbp" x="216.4" y="365.7"/><use href="#mbp" x="221.1" y="371.6"/><use href="#mbp" x="214.9" y="365.9"/><use href="#mbp" x="234.6" y="383.2"/><use href="#mbp" x="208.8" y="360.3"/><use href="#mbp" x="232.5" y="380.5"/><use href="#mbp" x="235.9" y="382.5"/><use href="#mbp" x="232.3" y="380.4"/><use href="#mbp" x="213.7" y="365.5"/><use href="#mbp" x="220.9" y="370.7"/><use href="#mbp" x="210.6" y="362.6"/><use href="#mbp" x="224.5" y="373.7"/><use href="#mbp" x="235.5" y="383.1"/><use href="#mbp" x="224.0" y="374.7"/><use href="#mbp" x="228.9" y="378.2"/><use href="#mbp" x="214.4" y="365.8"/><use href="#mbp" x="214.3" y="365.7"/><use href="#mbp" x="231.2" y="378.9"/><use href="#mbp" x="211.3" y="362.7"/><use href="#mbp" x="220.5" y="370.4"/><use href="#mbp" x="224.8" y="374.4"/><use href="#mbp" x="220.7" y="372.2"/><use href="#mbp" x="217.5" y="368.5"/><use href="#mbp" x="208.3" y="361.5"/><use href="#mbp" x="207.7" y="361.4"/><use href="#mbp" x="207.8" y="360.8"/><use href="#mbp" x="229.7" y="379.5"/><use href="#mbp" x="223.6" y="373.7"/><use href="#mbp" x="205.5" y="358.2"/><use href="#mbp" x="228.8" y="377.3"/><use href="#mbp" x="215.2" y="367.7"/><use href="#gkm" x="95.5" y="285.1"/><use href="#gkm" x="126.0" y="302.5"/><use href="#gkm" x="130.4" y="303.6"/><use href="#gkm" x="143.5" y="314.5"/><use href="#gkm" x="147.8" y="317.8"/><use href="#gkm" x="156.2" y="308.5"/><use href="#gkm" x="144.7" y="313.3"/><use href="#gkm" x="144.1" y="316.3"/><use href="#gkm" x="150.9" y="319.4"/><use href="#gkm" x="127.9" y="304.0"/><use href="#gkm" x="154.9" y="320.8"/><use href="#gkm" x="160.9" y="325.3"/><use href="#gkm" x="137.0" y="308.7"/><use href="#gkm" x="136.7" y="309.6"/><use href="#gkm" x="159.8" y="324.4"/><use href="#gkm" x="145.3" y="315.7"/><use href="#gkm" x="138.5" y="311.0"/><use href="#gkm" x="165.3" y="328.2"/><use href="#fim" x="39.8" y="271.3"/><use href="#fim" x="81.3" y="273.1"/><use href="#fim" x="83.5" y="274.8"/><use href="#fim" x="91.1" y="280.7"/><use href="#fim" x="102.0" y="284.0"/><use href="#fim" x="95.9" y="313.5"/><use href="#fim" x="118.4" y="294.9"/><use href="#fim" x="123.4" y="298.2"/><use href="#fim" x="128.2" y="299.3"/><use href="#fim" x="134.3" y="305.8"/><use href="#arm" x="97.6" y="303.2"/><use href="#arm" x="108.5" y="312.4"/><use href="#arm" x="109.6" y="315.6"/><use href="#arm" x="107.5" y="314.0"/><use href="#arm" x="110.5" y="311.0"/><use href="#arm" x="119.0" y="312.4"/><use href="#arm" x="117.3" y="318.9"/><use href="#arm" x="126.0" y="320.0"/><use href="#arm" x="122.0" y="316.0"/><use href="#arm" x="141.3" y="308.0"/><use href="#arm" x="147.8" y="312.4"/><use href="#arm" x="144.0" y="309.5"/><use href="#arm" x="150.0" y="313.5"/><use href="#arm" x="169.5" y="325.0"/><use href="#arm" x="176.0" y="331.5"/><use href="#arm" x="165.0" y="323.5"/><use href="#igm" x="152.7" y="321.3"/><use href="#igm" x="156.4" y="324.2"/><use href="#igm" x="160.7" y="324.9"/><use href="#igm" x="162.2" y="327.8"/><use href="#igm" x="157.8" y="326.4"/><use href="#igm" x="177.5" y="339.5"/><use href="#igm" x="184.0" y="338.7"/><use href="#mam" x="93.9" y="277.5"/><use href="#mam" x="133.0" y="301.5"/><use href="#mbm" x="119.5" y="323.3"/><use href="#mbm" x="122.7" y="325.5"/><use href="#mbm" x="127.1" y="328.7"/><use href="#mbm" x="129.3" y="334.2"/><use href="#mbm" x="134.7" y="335.3"/><use href="#mbm" x="139.8" y="338.5"/><use href="#mbm" x="149.6" y="344.0"/><use href="#mbm" x="130.0" y="331.5"/><use href="#mbm" x="154.0" y="347.2"/><use href="#mbm" x="158.4" y="350.0"/><use href="#mbm" x="161.6" y="348.5"/><use href="#mbm" x="161.6" y="353.3"/><use href="#mbm" x="167.1" y="355.5"/><use href="#mbm" x="171.5" y="358.1"/><use href="#mbm" x="174.7" y="355.5"/><use href="#mbm" x="176.9" y="350.7"/><use href="#mbm" x="176.9" y="360.3"/><use href="#mbm" x="183.0" y="366.6"/><use href="#mbm" x="197.2" y="365.4"/><use href="#mbm" x="198.6" y="375.1"/><use href="#mbm" x="202.7" y="377.2"/><use href="#mbm" x="206.3" y="379.5"/><use href="#mbm" x="209.8" y="381.0"/></g>
<path d="M30.8,229.95H265.3V412.0H30.8Z" fill="none" stroke="#0c0c0c" stroke-width="1.45" stroke-linejoin="miter"/>
<path d="M47.55,412.0v-4.3M47.55,229.95v4.3M64.30,412.0v-4.3M64.30,229.95v4.3M81.05,412.0v-4.3M81.05,229.95v4.3M97.80,412.0v-4.3M97.80,229.95v4.3M114.55,412.0v-4.3M114.55,229.95v4.3M131.30,412.0v-4.3M131.30,229.95v4.3M148.05,412.0v-4.3M148.05,229.95v4.3M164.80,412.0v-4.3M164.80,229.95v4.3M181.55,412.0v-4.3M181.55,229.95v4.3M198.30,412.0v-4.3M198.30,229.95v4.3M215.05,412.0v-4.3M215.05,229.95v4.3M231.80,412.0v-4.3M231.80,229.95v4.3M248.55,412.0v-4.3M248.55,229.95v4.3M30.8,393.80h4.3M265.3,393.80h-4.3M30.8,375.59h4.3M265.3,375.59h-4.3M30.8,357.38h4.3M265.3,357.38h-4.3M30.8,339.18h4.3M265.3,339.18h-4.3M30.8,320.98h4.3M265.3,320.98h-4.3M30.8,302.77h4.3M265.3,302.77h-4.3M30.8,284.56h4.3M265.3,284.56h-4.3M30.8,266.36h4.3M265.3,266.36h-4.3M30.8,248.16h4.3M265.3,248.16h-4.3" fill="none" stroke="#0c0c0c" stroke-width="1.15"/>
<text x="30.8" y="424.7" font-size="8.15" text-anchor="middle">30</text>
<text x="64.3" y="424.7" font-size="8.15" text-anchor="middle">40</text>
<text x="97.8" y="424.7" font-size="8.15" text-anchor="middle">50</text>
<text x="131.3" y="424.7" font-size="8.15" text-anchor="middle">60</text>
<text x="164.8" y="424.7" font-size="8.15" text-anchor="middle">70</text>
<text x="198.3" y="424.7" font-size="8.15" text-anchor="middle">80</text>
<text x="231.8" y="424.7" font-size="8.15" text-anchor="middle">90</text>
<text x="265.3" y="424.7" font-size="8.15" text-anchor="middle">100</text>
<text x="26.6" y="415.7" font-size="8.15" text-anchor="end">0</text>
<text x="26.6" y="397.5" font-size="8.15" text-anchor="end">1</text>
<text x="26.6" y="379.3" font-size="8.15" text-anchor="end">2</text>
<text x="26.6" y="361.1" font-size="8.15" text-anchor="end">3</text>
<text x="26.6" y="342.9" font-size="8.15" text-anchor="end">4</text>
<text x="26.6" y="324.7" font-size="8.15" text-anchor="end">5</text>
<text x="26.6" y="306.5" font-size="8.15" text-anchor="end">6</text>
<text x="26.6" y="288.3" font-size="8.15" text-anchor="end">7</text>
<text x="26.6" y="270.1" font-size="8.15" text-anchor="end">8</text>
<text x="26.6" y="251.9" font-size="8.15" text-anchor="end">9</text>
<text x="26.6" y="233.6" font-size="8.15" text-anchor="end">10</text>
<text x="151.0" y="436.8" font-size="8.55" text-anchor="middle">An (mol%)</text>
<text transform="translate(13.8,321.0) rotate(-90)" font-size="8.5" text-anchor="middle">Na<tspan font-size="5.6" dy="1.8">2</tspan><tspan dy="-1.8">O</tspan></text>
<g><use href="#gkp" x="412.0" y="376.0"/><use href="#gkp" x="416.0" y="378.0"/><use href="#gkp" x="426.0" y="379.5"/><use href="#gkp" x="428.5" y="372.0"/><use href="#gkp" x="434.0" y="377.0"/><use href="#gkp" x="421.0" y="377.0"/><use href="#gkp" x="425.0" y="384.0"/><use href="#gkp" x="431.0" y="386.0"/><use href="#gkp" x="436.0" y="384.5"/><use href="#gkp" x="441.0" y="379.0"/><use href="#gkp" x="414.5" y="385.5"/><use href="#gkp" x="497.3" y="398.4"/><use href="#fip" x="506.5" y="390.3"/><use href="#fip" x="504.9" y="394.7"/><use href="#fip" x="506.2" y="392.6"/><use href="#fip" x="512.0" y="394.2"/><use href="#fip" x="509.2" y="396.7"/><use href="#fip" x="509.4" y="390.7"/><use href="#fip" x="511.2" y="391.1"/><use href="#fip" x="511.1" y="395.0"/><use href="#fip" x="506.6" y="395.8"/><use href="#fip" x="508.6" y="394.0"/><use href="#fip" x="507.8" y="392.9"/><use href="#fip" x="508.7" y="389.2"/><use href="#fip" x="510.7" y="392.2"/><use href="#fip" x="511.9" y="389.9"/><use href="#fip" x="497.4" y="394.7"/><use href="#fip" x="497.8" y="395.8"/><use href="#fip" x="496.1" y="395.7"/><use href="#fip" x="499.0" y="396.0"/><use href="#fip" x="504.5" y="397.5"/><use href="#igp" x="486.0" y="393.0"/><use href="#igp" x="490.0" y="395.0"/><use href="#arp" x="500.5" y="387.4"/><use href="#arp" x="510.5" y="395.1"/><use href="#arp" x="504.0" y="388.4"/><use href="#arp" x="508.0" y="389.9"/><use href="#arp" x="498.0" y="389.4"/><use href="#map" x="464.5" y="394.3"/><use href="#map" x="495.6" y="391.8"/><use href="#map" x="506.3" y="394.6"/><use href="#map" x="488.6" y="392.1"/><use href="#map" x="502.0" y="392.5"/><use href="#map" x="499.1" y="390.5"/><use href="#map" x="507.6" y="391.6"/><use href="#map" x="493.2" y="389.2"/><use href="#map" x="489.3" y="389.2"/><use href="#map" x="491.8" y="391.9"/><use href="#map" x="494.0" y="392.6"/><use href="#map" x="501.1" y="393.9"/><use href="#map" x="492.7" y="390.8"/><use href="#map" x="496.6" y="393.2"/><use href="#map" x="506.8" y="392.0"/><use href="#map" x="505.5" y="393.7"/><use href="#map" x="491.0" y="389.1"/><use href="#map" x="504.4" y="391.9"/><use href="#map" x="499.0" y="391.7"/><use href="#map" x="501.5" y="391.0"/><use href="#map" x="500.4" y="389.2"/><use href="#map" x="504.5" y="393.1"/><use href="#mbp" x="442.4" y="378.0"/><use href="#mbp" x="444.9" y="381.8"/><use href="#mbp" x="448.1" y="380.5"/><use href="#mbp" x="443.6" y="385.6"/><use href="#mbp" x="447.5" y="386.9"/><use href="#mbp" x="449.4" y="382.9"/><use href="#mbp" x="463.8" y="388.4"/><use href="#mbp" x="458.1" y="384.1"/><use href="#mbp" x="453.1" y="386.3"/><use href="#mbp" x="446.4" y="384.6"/><use href="#mbp" x="465.7" y="385.9"/><use href="#mbp" x="455.2" y="383.4"/><use href="#mbp" x="447.2" y="381.1"/><use href="#mbp" x="464.3" y="388.8"/><use href="#mbp" x="464.4" y="385.9"/><use href="#mbp" x="462.6" y="385.9"/><use href="#mbp" x="464.4" y="390.6"/><use href="#mbp" x="455.4" y="386.5"/><use href="#mbp" x="453.9" y="383.8"/><use href="#mbp" x="460.3" y="386.6"/><use href="#mbp" x="462.9" y="389.1"/><use href="#mbp" x="455.6" y="385.3"/><use href="#mbp" x="449.9" y="381.5"/><use href="#mbp" x="452.5" y="386.4"/><use href="#mbp" x="450.2" y="389.2"/><use href="#mbp" x="490.0" y="392.2"/><use href="#mbp" x="482.5" y="391.5"/><use href="#mbp" x="483.3" y="390.9"/><use href="#mbp" x="501.5" y="391.5"/><use href="#mbp" x="481.1" y="389.9"/><use href="#mbp" x="478.1" y="390.9"/><use href="#mbp" x="476.0" y="392.3"/><use href="#mbp" x="480.6" y="390.5"/><use href="#mbp" x="472.7" y="389.2"/><use href="#mbp" x="477.6" y="388.9"/><use href="#mbp" x="501.8" y="392.5"/><use href="#mbp" x="501.9" y="392.6"/><use href="#mbp" x="500.6" y="392.0"/><use href="#mbp" x="497.0" y="392.3"/><use href="#mbp" x="482.1" y="391.2"/><use href="#mbp" x="506.9" y="391.0"/><use href="#mbp" x="487.7" y="390.6"/><use href="#mbp" x="471.5" y="391.4"/><use href="#mbp" x="496.4" y="390.5"/><use href="#mbp" x="491.0" y="394.5"/><use href="#mbp" x="481.8" y="390.0"/><use href="#mbp" x="475.0" y="392.1"/><use href="#mbp" x="503.4" y="392.8"/><use href="#mbp" x="489.2" y="391.9"/><use href="#mbp" x="477.6" y="389.9"/><use href="#mbp" x="494.4" y="388.8"/><use href="#mbp" x="490.5" y="389.7"/><use href="#mbp" x="469.6" y="391.0"/><use href="#mbp" x="473.6" y="390.4"/><use href="#mbp" x="494.6" y="389.3"/><use href="#mbp" x="470.8" y="387.6"/><use href="#mbp" x="487.6" y="389.6"/><use href="#mbp" x="478.7" y="391.2"/><use href="#mbp" x="475.7" y="390.2"/><use href="#mbp" x="471.4" y="389.0"/><use href="#mbp" x="483.4" y="388.5"/><use href="#mbp" x="505.0" y="391.9"/><use href="#mbp" x="503.3" y="387.3"/><use href="#mbp" x="471.7" y="389.3"/><use href="#mbp" x="495.2" y="391.2"/><use href="#mbp" x="494.6" y="389.5"/><use href="#mbp" x="494.2" y="392.2"/><use href="#mbp" x="496.1" y="390.8"/><use href="#mbp" x="480.9" y="393.6"/><use href="#mbp" x="493.0" y="391.0"/><use href="#mbp" x="505.2" y="392.1"/><use href="#mbp" x="497.6" y="390.7"/><use href="#mbp" x="467.8" y="388.6"/><use href="#mbp" x="472.9" y="389.9"/><use href="#mbp" x="482.3" y="391.5"/><use href="#mbp" x="467.7" y="388.1"/><use href="#mbp" x="473.6" y="392.0"/><use href="#mbp" x="502.3" y="388.4"/><use href="#mbp" x="477.0" y="388.4"/><use href="#mbp" x="484.7" y="389.4"/><use href="#mbp" x="466.1" y="387.4"/><use href="#mbp" x="501.9" y="391.3"/><use href="#mbp" x="467.9" y="387.6"/><use href="#mbp" x="502.8" y="390.7"/><use href="#mbp" x="476.5" y="389.2"/><use href="#mbp" x="470.8" y="389.6"/><use href="#mbp" x="505.4" y="390.0"/><use href="#mbp" x="498.1" y="393.4"/><use href="#mbp" x="482.8" y="391.5"/><use href="#mbp" x="498.1" y="391.6"/><use href="#mbp" x="469.9" y="387.9"/><use href="#mbp" x="506.9" y="387.5"/><use href="#mbp" x="495.6" y="392.7"/><use href="#mbp" x="497.7" y="392.1"/><use href="#mbp" x="485.6" y="387.8"/><use href="#mbp" x="468.4" y="388.5"/><use href="#mbp" x="488.1" y="388.4"/><use href="#gkm" x="400.9" y="325.2"/><use href="#gkm" x="367.6" y="385.5"/><use href="#gkm" x="424.4" y="308.3"/><use href="#gkm" x="428.2" y="340.1"/><use href="#gkm" x="409.3" y="369.7"/><use href="#gkm" x="414.4" y="372.9"/><use href="#gkm" x="418.2" y="374.2"/><use href="#gkm" x="431.5" y="367.8"/><use href="#gkm" x="433.5" y="371.6"/><use href="#gkm" x="437.9" y="374.2"/><use href="#gkm" x="430.9" y="375.5"/><use href="#gkm" x="422.6" y="372.9"/><use href="#gkm" x="417.5" y="380.5"/><use href="#gkm" x="420.7" y="384.4"/><use href="#gkm" x="423.3" y="380.5"/><use href="#gkm" x="430.9" y="381.8"/><use href="#gkm" x="437.3" y="380.5"/><use href="#gkm" x="439.8" y="383.1"/><use href="#fim" x="310.9" y="318.4"/><use href="#fim" x="367.6" y="270.4"/><use href="#fim" x="395.5" y="354.5"/><use href="#fim" x="363.3" y="366.2"/><use href="#fim" x="374.4" y="371.1"/><use href="#fim" x="355.0" y="377.8"/><use href="#fim" x="352.6" y="379.5"/><use href="#fim" x="390.5" y="361.4"/><use href="#fim" x="406.7" y="374.2"/><use href="#fim" x="411.8" y="383.7"/><use href="#fim" x="399.7" y="383.1"/><use href="#arm" x="369.5" y="371.5"/><use href="#arm" x="381.3" y="365.9"/><use href="#arm" x="381.9" y="370.4"/><use href="#arm" x="380.6" y="374.2"/><use href="#arm" x="383.5" y="368.0"/><use href="#arm" x="383.8" y="372.5"/><use href="#arm" x="392.1" y="360.8"/><use href="#arm" x="389.5" y="364.6"/><use href="#arm" x="394.0" y="364.6"/><use href="#arm" x="398.5" y="365.9"/><use href="#arm" x="390.8" y="369.1"/><use href="#arm" x="395.3" y="369.1"/><use href="#arm" x="392.7" y="372.9"/><use href="#arm" x="389.5" y="372.3"/><use href="#arm" x="396.5" y="372.5"/><use href="#arm" x="393.0" y="367.0"/><use href="#arm" x="420.1" y="377.4"/><use href="#arm" x="414.4" y="382.5"/><use href="#arm" x="427.7" y="382.5"/><use href="#igm" x="425.8" y="369.1"/><use href="#igm" x="425.8" y="376.1"/><use href="#igm" x="434.7" y="378.6"/><use href="#igm" x="456.0" y="380.4"/><use href="#mam" x="365.9" y="378.3"/><use href="#mam" x="404.8" y="385.6"/><use href="#mam" x="471.1" y="367.3"/><use href="#mbm" x="401.0" y="373.5"/><use href="#mbm" x="392.1" y="379.9"/><use href="#mbm" x="399.1" y="379.9"/><use href="#mbm" x="406.7" y="379.9"/><use href="#mbm" x="411.8" y="376.1"/><use href="#mbm" x="394.6" y="384.4"/><use href="#mbm" x="422.0" y="390.7"/><use href="#mbm" x="427.1" y="389.5"/><use href="#mbm" x="434.1" y="390.7"/><use href="#mbm" x="434.1" y="384.4"/><use href="#mbm" x="439.8" y="388.8"/><use href="#mbm" x="444.9" y="390.7"/><use href="#mbm" x="448.7" y="391.4"/><use href="#mbm" x="470.8" y="382.8"/></g>
<path d="M301.55,229.95H539.8V412.0H301.55Z" fill="none" stroke="#0c0c0c" stroke-width="1.45" stroke-linejoin="miter"/>
<path d="M318.57,412.0v-4.3M318.57,229.95v4.3M335.59,412.0v-4.3M335.59,229.95v4.3M352.60,412.0v-4.3M352.60,229.95v4.3M369.62,412.0v-4.3M369.62,229.95v4.3M386.64,412.0v-4.3M386.64,229.95v4.3M403.66,412.0v-4.3M403.66,229.95v4.3M420.67,412.0v-4.3M420.67,229.95v4.3M437.69,412.0v-4.3M437.69,229.95v4.3M454.71,412.0v-4.3M454.71,229.95v4.3M471.73,412.0v-4.3M471.73,229.95v4.3M488.75,412.0v-4.3M488.75,229.95v4.3M505.76,412.0v-4.3M505.76,229.95v4.3M522.78,412.0v-4.3M522.78,229.95v4.3M301.55,375.59h4.3M539.8,375.59h-4.3M301.55,339.18h4.3M539.8,339.18h-4.3M301.55,302.77h4.3M539.8,302.77h-4.3M301.55,266.36h4.3M539.8,266.36h-4.3" fill="none" stroke="#0c0c0c" stroke-width="1.15"/>
<text x="301.6" y="424.7" font-size="8.15" text-anchor="middle">30</text>
<text x="335.6" y="424.7" font-size="8.15" text-anchor="middle">40</text>
<text x="369.6" y="424.7" font-size="8.15" text-anchor="middle">50</text>
<text x="403.7" y="424.7" font-size="8.15" text-anchor="middle">60</text>
<text x="437.7" y="424.7" font-size="8.15" text-anchor="middle">70</text>
<text x="471.7" y="424.7" font-size="8.15" text-anchor="middle">80</text>
<text x="505.8" y="424.7" font-size="8.15" text-anchor="middle">90</text>
<text x="539.8" y="424.7" font-size="8.15" text-anchor="middle">100</text>
<text x="297.4" y="415.7" font-size="8.15" text-anchor="end">0</text>
<text x="297.4" y="379.3" font-size="8.15" text-anchor="end">1</text>
<text x="297.4" y="342.9" font-size="8.15" text-anchor="end">2</text>
<text x="297.4" y="306.5" font-size="8.15" text-anchor="end">3</text>
<text x="297.4" y="270.1" font-size="8.15" text-anchor="end">4</text>
<text x="297.4" y="233.6" font-size="8.15" text-anchor="end">5</text>
<text x="423.6" y="436.8" font-size="8.55" text-anchor="middle">An (mol%)</text>
<text transform="translate(287.9,321.0) rotate(-90)" font-size="8.5" text-anchor="middle">FeO</text>
<g><use href="#gkp" x="168.7" y="626.3"/><use href="#gkp" x="131.0" y="611.5"/><use href="#gkp" x="138.0" y="617.0"/><use href="#gkp" x="143.0" y="621.5"/><use href="#gkp" x="148.0" y="620.5"/><use href="#gkp" x="155.0" y="621.0"/><use href="#gkp" x="162.0" y="622.5"/><use href="#gkp" x="157.0" y="614.0"/><use href="#gkp" x="150.0" y="614.5"/><use href="#gkp" x="133.5" y="622.5"/><use href="#gkp" x="140.0" y="623.5"/><use href="#gkp" x="164.0" y="616.0"/><use href="#gkp" x="168.2" y="626.0"/><use href="#fip" x="233.6" y="629.1"/><use href="#fip" x="235.3" y="622.1"/><use href="#fip" x="238.1" y="628.2"/><use href="#fip" x="231.5" y="626.6"/><use href="#fip" x="233.7" y="623.4"/><use href="#fip" x="236.3" y="620.4"/><use href="#fip" x="233.7" y="627.3"/><use href="#fip" x="236.6" y="629.2"/><use href="#fip" x="233.6" y="620.7"/><use href="#fip" x="235.9" y="631.5"/><use href="#fip" x="232.0" y="632.4"/><use href="#fip" x="230.7" y="628.1"/><use href="#fip" x="239.1" y="621.8"/><use href="#fip" x="238.4" y="626.4"/><use href="#fip" x="237.9" y="615.4"/><use href="#fip" x="236.9" y="627.2"/><use href="#fip" x="234.9" y="614.1"/><use href="#fip" x="238.3" y="630.4"/><use href="#igp" x="215.0" y="620.0"/><use href="#igp" x="218.0" y="623.0"/><use href="#arp" x="168.5" y="612.9"/><use href="#arp" x="202.6" y="613.0"/><use href="#arp" x="165.0" y="612.9"/><use href="#arp" x="226.0" y="610.9"/><use href="#arp" x="229.0" y="611.9"/><use href="#arp" x="231.5" y="613.4"/><use href="#arp" x="227.5" y="613.4"/><use href="#arp" x="236.0" y="620.9"/><use href="#map" x="152.2" y="621.2"/><use href="#map" x="221.6" y="619.2"/><use href="#map" x="218.8" y="620.0"/><use href="#map" x="224.1" y="622.1"/><use href="#map" x="226.4" y="624.2"/><use href="#map" x="224.8" y="626.4"/><use href="#map" x="227.5" y="622.0"/><use href="#map" x="221.1" y="622.3"/><use href="#map" x="225.8" y="621.7"/><use href="#map" x="228.5" y="629.6"/><use href="#map" x="221.2" y="625.7"/><use href="#map" x="224.2" y="624.9"/><use href="#map" x="226.1" y="627.1"/><use href="#map" x="222.3" y="623.9"/><use href="#map" x="224.7" y="619.3"/><use href="#map" x="224.4" y="628.2"/><use href="#map" x="219.8" y="618.6"/><use href="#map" x="230.3" y="629.0"/><use href="#map" x="218.0" y="618.3"/><use href="#mbp" x="186.4" y="621.1"/><use href="#mbp" x="178.3" y="619.4"/><use href="#mbp" x="165.4" y="617.9"/><use href="#mbp" x="178.0" y="613.8"/><use href="#mbp" x="175.1" y="617.6"/><use href="#mbp" x="170.9" y="614.3"/><use href="#mbp" x="184.4" y="610.8"/><use href="#mbp" x="168.3" y="618.0"/><use href="#mbp" x="174.3" y="611.4"/><use href="#mbp" x="168.2" y="620.3"/><use href="#mbp" x="176.6" y="611.7"/><use href="#mbp" x="183.8" y="613.3"/><use href="#mbp" x="165.8" y="615.0"/><use href="#mbp" x="183.9" y="616.6"/><use href="#mbp" x="180.4" y="618.8"/><use href="#mbp" x="180.6" y="611.6"/><use href="#mbp" x="170.9" y="618.3"/><use href="#mbp" x="173.8" y="620.3"/><use href="#mbp" x="181.1" y="614.3"/><use href="#mbp" x="185.8" y="618.4"/><use href="#mbp" x="164.5" y="611.7"/><use href="#mbp" x="182.6" y="620.9"/><use href="#mbp" x="173.0" y="615.7"/><use href="#mbp" x="172.1" y="610.6"/><use href="#mbp" x="186.7" y="611.0"/><use href="#mbp" x="177.1" y="616.3"/><use href="#mbp" x="211.9" y="621.9"/><use href="#mbp" x="187.9" y="618.5"/><use href="#mbp" x="207.0" y="621.0"/><use href="#mbp" x="203.5" y="616.9"/><use href="#mbp" x="194.3" y="620.4"/><use href="#mbp" x="209.7" y="621.5"/><use href="#mbp" x="200.2" y="619.1"/><use href="#mbp" x="196.1" y="618.4"/><use href="#mbp" x="197.6" y="614.5"/><use href="#mbp" x="212.7" y="617.9"/><use href="#mbp" x="193.1" y="616.8"/><use href="#mbp" x="209.6" y="617.6"/><use href="#mbp" x="194.9" y="615.4"/><use href="#mbp" x="188.7" y="616.4"/><use href="#mbp" x="201.3" y="621.5"/><use href="#mbp" x="202.2" y="614.6"/><use href="#mbp" x="191.6" y="618.6"/><use href="#mbp" x="207.1" y="617.4"/><use href="#mbp" x="225.0" y="623.1"/><use href="#mbp" x="221.1" y="614.1"/><use href="#mbp" x="221.0" y="620.4"/><use href="#mbp" x="220.0" y="616.1"/><use href="#mbp" x="219.7" y="618.9"/><use href="#mbp" x="232.0" y="619.6"/><use href="#mbp" x="232.2" y="615.3"/><use href="#mbp" x="218.5" y="613.1"/><use href="#mbp" x="227.8" y="623.4"/><use href="#mbp" x="229.9" y="619.6"/><use href="#mbp" x="223.5" y="620.0"/><use href="#mbp" x="222.2" y="611.3"/><use href="#mbp" x="227.6" y="615.2"/><use href="#mbp" x="225.1" y="618.9"/><use href="#mbp" x="229.4" y="615.1"/><use href="#mbp" x="218.6" y="621.2"/><use href="#mbp" x="226.9" y="618.3"/><use href="#mbp" x="234.1" y="616.8"/><use href="#mbp" x="221.1" y="617.8"/><use href="#mbp" x="228.1" y="621.3"/><use href="#mbp" x="222.4" y="621.7"/><use href="#mbp" x="224.5" y="615.0"/><use href="#mbp" x="229.6" y="611.4"/><use href="#mbp" x="226.5" y="612.7"/><use href="#mbp" x="232.3" y="613.4"/><use href="#mbp" x="230.4" y="622.6"/><use href="#mbp" x="217.7" y="615.3"/><use href="#mbp" x="216.6" y="613.8"/><use href="#mbp" x="223.9" y="613.0"/><use href="#mbp" x="229.7" y="617.5"/><use href="#gkm" x="91.6" y="625.9"/><use href="#gkm" x="126.5" y="509.7"/><use href="#gkm" x="153.8" y="581.4"/><use href="#gkm" x="150.0" y="589.6"/><use href="#gkm" x="143.9" y="609.7"/><use href="#gkm" x="142.0" y="614.2"/><use href="#gkm" x="127.4" y="614.2"/><use href="#gkm" x="135.6" y="615.5"/><use href="#gkm" x="144.5" y="617.4"/><use href="#gkm" x="145.2" y="623.1"/><use href="#gkm" x="129.3" y="617.4"/><use href="#gkm" x="134.0" y="619.5"/><use href="#gkm" x="141.0" y="619.0"/><use href="#gkm" x="147.0" y="612.5"/><use href="#fim" x="36.3" y="621.5"/><use href="#fim" x="121.0" y="598.3"/><use href="#fim" x="93.1" y="609.1"/><use href="#fim" x="80.6" y="623.3"/><use href="#fim" x="78.0" y="627.6"/><use href="#fim" x="88.9" y="625.5"/><use href="#fim" x="99.6" y="624.2"/><use href="#fim" x="115.9" y="609.1"/><use href="#fim" x="131.8" y="614.2"/><use href="#arm" x="94.4" y="616.7"/><use href="#arm" x="105.7" y="608.5"/><use href="#arm" x="108.9" y="610.4"/><use href="#arm" x="105.1" y="613.5"/><use href="#arm" x="108.3" y="615.5"/><use href="#arm" x="106.4" y="618.6"/><use href="#arm" x="119.1" y="607.2"/><use href="#arm" x="122.3" y="609.1"/><use href="#arm" x="115.3" y="612.3"/><use href="#arm" x="119.7" y="612.3"/><use href="#arm" x="122.9" y="614.2"/><use href="#arm" x="116.5" y="616.1"/><use href="#arm" x="120.4" y="616.7"/><use href="#arm" x="113.0" y="609.5"/><use href="#arm" x="117.5" y="609.5"/><use href="#arm" x="139.5" y="620.5"/><use href="#igm" x="151.5" y="609.1"/><use href="#igm" x="152.8" y="624.4"/><use href="#igm" x="187.0" y="609.8"/><use href="#igm" x="131.5" y="619.5"/><use href="#mam" x="91.6" y="625.9"/><use href="#mam" x="196.5" y="550.4"/><use href="#mam" x="180.5" y="603.9"/><use href="#mam" x="187.0" y="602.3"/><use href="#mam" x="190.3" y="608.0"/><use href="#mbm" x="119.7" y="619.3"/><use href="#mbm" x="116.5" y="623.7"/><use href="#mbm" x="126.5" y="620.5"/><use href="#mbm" x="124.8" y="626.3"/><use href="#mbm" x="131.8" y="625.0"/><use href="#mbm" x="137.5" y="626.9"/><use href="#mbm" x="147.7" y="617.4"/><use href="#mbm" x="152.2" y="616.7"/><use href="#mbm" x="159.2" y="618.0"/><use href="#mbm" x="159.8" y="624.4"/><use href="#mbm" x="165.5" y="620.5"/><use href="#mbm" x="169.4" y="619.9"/><use href="#mbm" x="173.1" y="623.4"/><use href="#mbm" x="176.2" y="626.0"/><use href="#mbm" x="182.5" y="619.6"/><use href="#mbm" x="196.5" y="628.5"/><use href="#mbm" x="197.8" y="623.4"/><use href="#mbm" x="205.4" y="624.7"/><use href="#mbm" x="208.0" y="626.0"/></g>
<path d="M26.8,451.5H265.3V634.05H26.8Z" fill="none" stroke="#0c0c0c" stroke-width="1.45" stroke-linejoin="miter"/>
<path d="M43.84,634.05v-4.3M43.84,451.5v4.3M60.87,634.05v-4.3M60.87,451.5v4.3M77.91,634.05v-4.3M77.91,451.5v4.3M94.94,634.05v-4.3M94.94,451.5v4.3M111.98,634.05v-4.3M111.98,451.5v4.3M129.01,634.05v-4.3M129.01,451.5v4.3M146.05,634.05v-4.3M146.05,451.5v4.3M163.09,634.05v-4.3M163.09,451.5v4.3M180.12,634.05v-4.3M180.12,451.5v4.3M197.16,634.05v-4.3M197.16,451.5v4.3M214.19,634.05v-4.3M214.19,451.5v4.3M231.23,634.05v-4.3M231.23,451.5v4.3M248.26,634.05v-4.3M248.26,451.5v4.3M26.8,542.77h4.3M265.3,542.77h-4.3" fill="none" stroke="#0c0c0c" stroke-width="1.15"/>
<text x="26.8" y="646.8" font-size="8.15" text-anchor="middle">30</text>
<text x="60.9" y="646.8" font-size="8.15" text-anchor="middle">40</text>
<text x="94.9" y="646.8" font-size="8.15" text-anchor="middle">50</text>
<text x="129.0" y="646.8" font-size="8.15" text-anchor="middle">60</text>
<text x="163.1" y="646.8" font-size="8.15" text-anchor="middle">70</text>
<text x="197.2" y="646.8" font-size="8.15" text-anchor="middle">80</text>
<text x="231.2" y="646.8" font-size="8.15" text-anchor="middle">90</text>
<text x="265.3" y="646.8" font-size="8.15" text-anchor="middle">100</text>
<text x="22.6" y="637.8" font-size="8.15" text-anchor="end">0</text>
<text x="22.6" y="546.5" font-size="8.15" text-anchor="end">1</text>
<text x="22.6" y="455.2" font-size="8.15" text-anchor="end">2</text>
<text x="149.0" y="658.8" font-size="8.55" text-anchor="middle">An (mol%)</text>
<text transform="translate(14.4,542.8) rotate(-90)" font-size="8.5" text-anchor="middle">MgO</text>
<g><use href="#gkp" x="413.0" y="602.5"/><use href="#gkp" x="416.5" y="604.5"/><use href="#gkp" x="420.0" y="603.0"/><use href="#gkp" x="423.5" y="601.0"/><use href="#gkp" x="426.0" y="607.0"/><use href="#gkp" x="428.0" y="604.5"/><use href="#gkp" x="415.0" y="607.5"/><use href="#gkp" x="410.0" y="603.0"/><use href="#gkp" x="433.0" y="608.5"/><use href="#gkp" x="436.0" y="611.0"/><use href="#gkp" x="431.5" y="601.5"/><use href="#fip" x="512.7" y="629.2"/><use href="#fip" x="510.2" y="632.5"/><use href="#fip" x="513.0" y="632.0"/><use href="#igp" x="486.0" y="624.0"/><use href="#igp" x="489.0" y="628.0"/><use href="#arp" x="510.2" y="630.9"/><use href="#arp" x="497.0" y="633.4"/><use href="#arp" x="507.0" y="621.4"/><use href="#arp" x="503.0" y="620.4"/><use href="#map" x="442.4" y="615.7"/><use href="#map" x="429.0" y="611.3"/><use href="#map" x="464.4" y="619.4"/><use href="#map" x="495.5" y="620.2"/><use href="#map" x="485.6" y="624.3"/><use href="#map" x="490.6" y="630.0"/><use href="#map" x="502.0" y="620.5"/><use href="#map" x="488.0" y="627.0"/><use href="#map" x="493.0" y="631.5"/><use href="#map" x="498.0" y="621.0"/><use href="#map" x="486.0" y="629.0"/><use href="#mbp" x="443.6" y="610.6"/><use href="#mbp" x="446.8" y="608.7"/><use href="#mbp" x="448.7" y="613.2"/><use href="#mbp" x="445.5" y="614.5"/><use href="#mbp" x="448.8" y="610.0"/><use href="#mbp" x="465.0" y="609.5"/><use href="#mbp" x="450.9" y="614.7"/><use href="#mbp" x="456.7" y="611.6"/><use href="#mbp" x="461.4" y="614.7"/><use href="#mbp" x="453.2" y="611.2"/><use href="#mbp" x="461.3" y="609.6"/><use href="#mbp" x="446.9" y="614.8"/><use href="#mbp" x="456.8" y="614.2"/><use href="#mbp" x="458.7" y="609.3"/><use href="#mbp" x="456.5" y="607.8"/><use href="#mbp" x="465.1" y="615.5"/><use href="#mbp" x="455.0" y="619.0"/><use href="#mbp" x="458.0" y="622.0"/><use href="#mbp" x="461.0" y="619.5"/><use href="#mbp" x="457.0" y="624.0"/><use href="#mbp" x="460.5" y="623.5"/><use href="#mbp" x="478.5" y="615.8"/><use href="#mbp" x="474.5" y="621.8"/><use href="#mbp" x="468.9" y="618.3"/><use href="#mbp" x="486.0" y="619.8"/><use href="#mbp" x="469.9" y="615.5"/><use href="#mbp" x="486.6" y="623.0"/><use href="#mbp" x="484.3" y="615.9"/><use href="#mbp" x="478.7" y="618.6"/><use href="#mbp" x="474.9" y="614.6"/><use href="#mbp" x="475.5" y="618.7"/><use href="#mbp" x="472.0" y="619.7"/><use href="#mbp" x="482.2" y="622.6"/><use href="#mbp" x="477.8" y="622.1"/><use href="#mbp" x="486.6" y="617.1"/><use href="#mbp" x="466.8" y="614.3"/><use href="#mbp" x="481.5" y="620.2"/><use href="#mbp" x="481.8" y="616.9"/><use href="#mbp" x="470.4" y="621.6"/><use href="#mbp" x="472.6" y="617.1"/><use href="#mbp" x="467.2" y="621.8"/><use href="#mbp" x="504.5" y="621.8"/><use href="#mbp" x="506.4" y="621.5"/><use href="#mbp" x="500.6" y="620.8"/><use href="#mbp" x="506.0" y="631.1"/><use href="#mbp" x="507.3" y="626.7"/><use href="#mbp" x="502.7" y="627.2"/><use href="#mbp" x="491.7" y="626.5"/><use href="#mbp" x="496.3" y="624.6"/><use href="#mbp" x="493.0" y="627.9"/><use href="#mbp" x="501.3" y="624.0"/><use href="#mbp" x="492.6" y="624.2"/><use href="#mbp" x="496.5" y="629.4"/><use href="#mbp" x="509.8" y="629.5"/><use href="#mbp" x="490.7" y="620.4"/><use href="#mbp" x="499.5" y="624.7"/><use href="#mbp" x="507.0" y="628.8"/><use href="#mbp" x="509.1" y="625.2"/><use href="#mbp" x="497.0" y="620.6"/><use href="#mbp" x="499.3" y="632.2"/><use href="#mbp" x="503.4" y="631.6"/><use href="#mbp" x="496.0" y="622.7"/><use href="#mbp" x="498.7" y="619.7"/><use href="#mbp" x="495.1" y="631.0"/><use href="#mbp" x="506.8" y="623.5"/><use href="#mbp" x="499.2" y="628.4"/><use href="#mbp" x="504.1" y="629.2"/><use href="#mbp" x="493.4" y="620.9"/><use href="#gkm" x="367.6" y="613.5"/><use href="#gkm" x="399.1" y="585.8"/><use href="#gkm" x="424.4" y="538.7"/><use href="#gkm" x="428.2" y="554.7"/><use href="#gkm" x="409.3" y="594.1"/><use href="#gkm" x="407.4" y="597.3"/><use href="#gkm" x="411.8" y="599.8"/><use href="#gkm" x="415.6" y="598.5"/><use href="#gkm" x="419.5" y="600.5"/><use href="#gkm" x="422.0" y="596.0"/><use href="#gkm" x="418.2" y="611.3"/><use href="#gkm" x="422.0" y="609.4"/><use href="#gkm" x="424.5" y="606.2"/><use href="#gkm" x="432.2" y="604.3"/><use href="#gkm" x="434.7" y="606.8"/><use href="#gkm" x="437.9" y="609.4"/><use href="#gkm" x="430.9" y="609.4"/><use href="#fim" x="310.9" y="505.8"/><use href="#fim" x="367.6" y="504.1"/><use href="#fim" x="374.1" y="582.6"/><use href="#fim" x="363.3" y="587.9"/><use href="#fim" x="352.6" y="591.5"/><use href="#fim" x="355.0" y="593.5"/><use href="#fim" x="390.8" y="584.5"/><use href="#fim" x="395.3" y="584.5"/><use href="#fim" x="406.1" y="599.2"/><use href="#arm" x="369.5" y="597.6"/><use href="#arm" x="382.5" y="592.8"/><use href="#arm" x="381.3" y="597.3"/><use href="#arm" x="383.2" y="601.1"/><use href="#arm" x="381.9" y="605.5"/><use href="#arm" x="384.5" y="595.5"/><use href="#arm" x="395.3" y="596.0"/><use href="#arm" x="391.5" y="598.5"/><use href="#arm" x="396.5" y="600.5"/><use href="#arm" x="388.9" y="602.4"/><use href="#arm" x="393.4" y="604.3"/><use href="#arm" x="399.7" y="602.4"/><use href="#arm" x="392.5" y="601.0"/><use href="#arm" x="390.0" y="596.5"/><use href="#arm" x="397.5" y="604.5"/><use href="#arm" x="420.7" y="606.2"/><use href="#arm" x="413.7" y="609.4"/><use href="#arm" x="441.1" y="603.6"/><use href="#arm" x="429.0" y="607.5"/><use href="#igm" x="426.5" y="598.5"/><use href="#igm" x="427.7" y="602.4"/><use href="#mam" x="365.9" y="586.7"/><use href="#mam" x="406.1" y="604.3"/><use href="#mam" x="470.9" y="586.3"/><use href="#mam" x="455.9" y="607.9"/><use href="#mam" x="460.3" y="616.1"/><use href="#mam" x="465.2" y="623.5"/><use href="#mbm" x="394.3" y="606.2"/><use href="#mbm" x="401.0" y="608.3"/><use href="#mbm" x="392.1" y="615.5"/><use href="#mbm" x="399.3" y="613.8"/><use href="#mbm" x="406.7" y="611.9"/><use href="#mbm" x="411.8" y="615.7"/><use href="#mbm" x="422.6" y="617.6"/><use href="#mbm" x="427.1" y="613.2"/><use href="#mbm" x="434.1" y="611.9"/><use href="#mbm" x="431.5" y="619.5"/><use href="#mbm" x="434.7" y="623.4"/><use href="#mbm" x="439.8" y="621.5"/><use href="#mbm" x="443.6" y="622.1"/><use href="#mbm" x="449.4" y="618.3"/><use href="#mbm" x="448.5" y="623.0"/><use href="#mbm" x="451.3" y="621.8"/><use href="#mbm" x="470.9" y="626.7"/><use href="#mbm" x="476.6" y="627.6"/><use href="#mbm" x="480.7" y="628.4"/><use href="#mbm" x="479.1" y="632.5"/><use href="#mbm" x="474.5" y="630.0"/></g>
<path d="M301.55,451.5H539.8V634.05H301.55Z" fill="none" stroke="#0c0c0c" stroke-width="1.45" stroke-linejoin="miter"/>
<path d="M318.57,634.05v-4.3M318.57,451.5v4.3M335.59,634.05v-4.3M335.59,451.5v4.3M352.60,634.05v-4.3M352.60,451.5v4.3M369.62,634.05v-4.3M369.62,451.5v4.3M386.64,634.05v-4.3M386.64,451.5v4.3M403.66,634.05v-4.3M403.66,451.5v4.3M420.67,634.05v-4.3M420.67,451.5v4.3M437.69,634.05v-4.3M437.69,451.5v4.3M454.71,634.05v-4.3M454.71,451.5v4.3M471.73,634.05v-4.3M471.73,451.5v4.3M488.75,634.05v-4.3M488.75,451.5v4.3M505.76,634.05v-4.3M505.76,451.5v4.3M522.78,634.05v-4.3M522.78,451.5v4.3" fill="none" stroke="#0c0c0c" stroke-width="1.15"/>
<text x="301.6" y="646.8" font-size="8.15" text-anchor="middle">30</text>
<text x="335.6" y="646.8" font-size="8.15" text-anchor="middle">40</text>
<text x="369.6" y="646.8" font-size="8.15" text-anchor="middle">50</text>
<text x="403.7" y="646.8" font-size="8.15" text-anchor="middle">60</text>
<text x="437.7" y="646.8" font-size="8.15" text-anchor="middle">70</text>
<text x="471.7" y="646.8" font-size="8.15" text-anchor="middle">80</text>
<text x="505.8" y="646.8" font-size="8.15" text-anchor="middle">90</text>
<text x="539.8" y="646.8" font-size="8.15" text-anchor="middle">100</text>
<text x="297.4" y="637.8" font-size="8.15" text-anchor="end">0</text>
<text x="297.4" y="455.2" font-size="8.15" text-anchor="end">1</text>
<text x="423.6" y="658.8" font-size="8.55" text-anchor="middle">An (mol%)</text>
<text transform="translate(287.9,542.8) rotate(-90)" font-size="8.5" text-anchor="middle">TiO<tspan font-size="5.6" dy="1.8">2</tspan></text>
<use href="#gkpL" x="35.9" y="463.1"/>
<text x="42.2" y="465.5" font-size="5.8">Galae’le Koma phenocryst</text>
<use href="#gkmL" x="35.9" y="473.0"/>
<text x="42.2" y="475.4" font-size="5.8">Galae’le Koma microcryst</text>
<use href="#fipL" x="35.9" y="482.9"/>
<text x="42.2" y="485.3" font-size="5.8">Fialé phenocryst</text>
<use href="#fimL" x="35.9" y="492.8"/>
<text x="42.2" y="495.2" font-size="5.8">Fialé microcryst</text>
<use href="#igpL" x="35.9" y="502.7"/>
<text x="42.2" y="505.1" font-size="5.8">Inki Garayto phenocryst</text>
<use href="#igmL" x="35.9" y="512.6"/>
<text x="42.2" y="515.0" font-size="5.8">Inki Garayto microcryst</text>
<use href="#arpL" x="35.9" y="522.5"/>
<text x="42.2" y="524.9" font-size="5.8">Ardoukoba phenocryst</text>
<use href="#armL" x="35.9" y="532.4"/>
<text x="42.2" y="534.8" font-size="5.8">Ardoukoba microcryst</text>
<use href="#mapL" x="35.9" y="542.3"/>
<text x="42.2" y="544.7" font-size="5.8">Manda phenocryst</text>
<use href="#mamL" x="35.9" y="552.2"/>
<text x="42.2" y="554.6" font-size="5.8">Manda microcryst</text>
<use href="#mbpL" x="35.9" y="562.1"/>
<text x="42.2" y="564.5" font-size="5.8">Marginal basalt phenocryst</text>
<use href="#mbmL" x="35.9" y="572.0"/>
<text x="42.2" y="574.4" font-size="5.8">Marginal basalt microcryst</text>
</svg></body></html>
